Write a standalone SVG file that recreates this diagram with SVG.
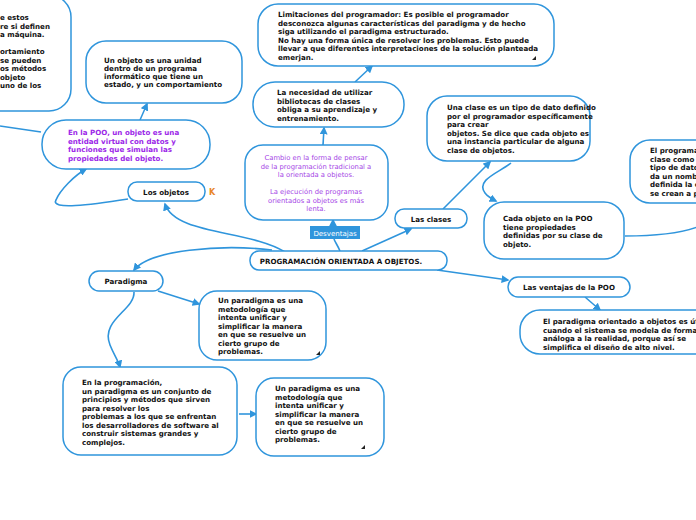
<svg xmlns="http://www.w3.org/2000/svg" width="696" height="520" viewBox="0 0 696 520">
<defs>
<style>
.n{fill:#fff;stroke:#2f95dc;stroke-width:1.5}
.t{font-family:"DejaVu Sans",Verdana,sans-serif;font-size:7.1px;font-weight:bold;fill:#111}
.p{fill:#9b27e8}
.q{font-family:"DejaVu Sans",Verdana,sans-serif;font-size:6.8px;fill:#a545e6}
.c{text-anchor:middle}
.l{fill:none;stroke:#2f95dc;stroke-width:1.6;marker-end:url(#a)}
.m{fill:none;stroke:#2f95dc;stroke-width:1.6}
.k{fill:#222}
</style>
<marker id="a" viewBox="0 0 10 10" refX="8" refY="5" markerWidth="5" markerHeight="5" orient="auto"><path d="M0,0L10,5L0,10z" fill="#2f95dc"/></marker>
</defs>
<rect width="696" height="520" fill="#fff"/>
<g id="connectors">
<path class="l" d="M285,252 C250,230 175,235 165,204"/>
<path class="l" d="M128,199 C90,205 50,210 56,200 C60,190 75,175 86,169"/>
<path class="l" d="M140,120 L147,104"/>
<path class="m" d="M41,132 L0,126"/>
<path class="m" d="M340,251 C338,246 335,242 334,239"/>
<path class="l" d="M333,226 L333,220"/>
<path class="l" d="M323,145 L324,128"/>
<path class="l" d="M355,82 L372,66"/>
<path class="l" d="M362,251 L411,229"/>
<path class="l" d="M443,209 L490,162"/>
<path class="l" d="M511,163 C500,172 475,180 485,193 C488,197 492,199 496,201"/>
<path class="m" d="M625,236 C650,236 680,234 700,226"/>
<path class="l" d="M437,270 L508,280"/>
<path class="l" d="M585,297 L600,310"/>
<path class="l" d="M272,250 C220,244 150,250 134,270"/>
<path class="l" d="M158,291 L199,304"/>
<path class="l" d="M134,292 C135,310 100,320 110,345 C114,355 118,360 120,367"/>
<path class="l" d="M239,414 L256,414"/>
</g>
<g id="n_left"><rect class="n" x="-30" y="-5" width="101" height="116" rx="22"/>
<text class="t" x="0" y="20">e estos</text><text class="t" x="0" y="28.5">re si definen</text><text class="t" x="0" y="37">a máquina.</text>
<text class="t" x="0" y="54">ortamiento</text><text class="t" x="0" y="62.5"> se pueden</text><text class="t" x="0" y="71">os métodos</text><text class="t" x="0" y="79.5"> objeto</text><text class="t" x="0" y="88">uno de los</text></g>
<g id="n_unidad"><rect class="n" x="86" y="41" width="156" height="62" rx="20"/>
<text class="t" x="104" y="63">Un objeto es una unidad</text><text class="t" x="104" y="71">dentro de un programa</text><text class="t" x="104" y="79">informático que tiene un</text><text class="t" x="104" y="87">estado, y un comportamiento</text></g>
<g id="n_poo"><rect class="n" x="42" y="120" width="168" height="49" rx="24"/>
<text class="t p" x="68" y="135">En la POO, un objeto es una</text><text class="t p" x="68" y="144">entidad virtual  con datos y</text><text class="t p" x="68" y="152">funciones que simulan las</text><text class="t p" x="68" y="161">propiedades del objeto.</text></g>
<g id="n_objetos"><rect class="n" x="128" y="182" width="77" height="19" rx="9"/>
<text class="t c" x="166" y="195">Los objetos</text>
<text x="209" y="195" style="font-family:'DejaVu Sans',sans-serif;font-size:8px;font-weight:bold;fill:#e8862a">K</text></g>
<g id="n_limit"><rect class="n" x="258" y="4" width="296" height="62" rx="20"/>
<text class="t" x="278" y="17">Limitaciones del programador: Es posible el programador</text><text class="t" x="278" y="25.5">desconozca algunas características del paradigma y de hecho</text><text class="t" x="278" y="34">siga utilizando el paradigma estructurado.</text><text class="t" x="278" y="42.5">No hay una forma única de resolver los problemas. Esto puede</text><text class="t" x="278" y="51">llevar a que diferentes interpretaciones de la solución planteada</text><text class="t" x="278" y="59.5">emerjan.</text>
<path class="k" d="M536,56 L536,60 L532,60z"/></g>
<g id="n_neces"><rect class="n" x="253" y="82" width="151" height="45" rx="22"/>
<text class="t" x="277" y="95">La necesidad de utilizar</text><text class="t" x="277" y="103.5">bibliotecas de clases</text><text class="t" x="277" y="112">obliga a su aprendizaje y</text><text class="t" x="277" y="120.5">entrenamiento.</text></g>
<g id="n_cambio"><rect class="n" x="245" y="145" width="143" height="75" rx="18"/>
<text class="q c" x="316" y="160">Cambio en la forma de pensar</text><text class="q c" x="316" y="168.5">de la programación tradicional a</text><text class="q c" x="316" y="177">la orientada a objetos.</text>
<text class="q c" x="316" y="194">La ejecución de programas</text><text class="q c" x="316" y="202.5">orientados a objetos es más</text><text class="q c" x="316" y="211">lenta.</text></g>
<g id="n_desv"><rect x="310" y="226" width="50" height="13" fill="#2f95dc"/>
<text x="335" y="235.5" text-anchor="middle" style="font-family:'DejaVu Sans',sans-serif;font-size:7px;fill:#fff">Desventajas</text></g>
<g id="n_clases"><rect class="n" x="395" y="209" width="72" height="19" rx="9"/>
<text class="t c" x="431" y="222">Las clases</text></g>
<g id="n_unaclase"><rect class="n" x="427" y="96" width="163" height="65" rx="20"/>
<text class="t" x="447" y="110">Una clase es un tipo de dato definido</text><text class="t" x="447" y="118.5">por el programador específicamente</text><text class="t" x="447" y="127">para crear</text><text class="t" x="447" y="135.5">objetos. Se dice que cada objeto es</text><text class="t" x="447" y="144">una instancia particular de alguna</text><text class="t" x="447" y="152.5">clase de objetos.</text></g>
<g id="n_cada"><rect class="n" x="484" y="202" width="140" height="57" rx="20"/>
<text class="t" x="503" y="221">Cada objeto en la POO</text><text class="t" x="503" y="229.5">tiene propiedades</text><text class="t" x="503" y="238">definidas por su clase de</text><text class="t" x="503" y="246.5">objeto.</text></g>
<g id="n_prog"><rect class="n" x="630" y="140" width="100" height="63" rx="20"/>
<text class="t" x="650" y="153"> El programa</text><text class="t" x="650" y="161.5">clase como l</text><text class="t" x="650" y="170">tipo de dato</text><text class="t" x="650" y="178.5">da un nombr</text><text class="t" x="650" y="187">definida la c</text><text class="t" x="650" y="195.5">se crean a p</text></g>
<g id="n_central"><rect class="n" x="250" y="251" width="197" height="19" rx="9"/>
<text class="t c" x="341" y="264">PROGRAMACIÓN ORIENTADA A OBJETOS.</text></g>
<g id="n_vent"><rect class="n" x="508" y="277" width="122" height="20" rx="10"/>
<text class="t c" x="569" y="290">Las ventajas de la POO</text></g>
<g id="n_elpar"><rect class="n" x="520" y="310" width="200" height="44" rx="20"/>
<text class="t" x="543" y="324">El paradigma orientado a objetos es útil</text><text class="t" x="543" y="332.5">cuando el sistema se modela de forma</text><text class="t" x="543" y="341">análoga a la realidad, porque así se</text><text class="t" x="543" y="349.5">simplifica el diseño de alto nivel.</text></g>
<g id="n_paradigma"><rect class="n" x="89" y="271" width="74" height="20" rx="10"/>
<text class="t c" x="126" y="284">Paradigma</text></g>
<g id="n_up1"><rect class="n" x="199" y="291" width="127" height="69" rx="18"/>
<text class="t" x="218" y="303">Un paradigma es una</text><text class="t" x="218" y="311.5">metodología que</text><text class="t" x="218" y="320">intenta unificar y</text><text class="t" x="218" y="328.5">simplificar la manera</text><text class="t" x="218" y="337">en que se resuelve un</text><text class="t" x="218" y="345.5">cierto grupo de</text><text class="t" x="218" y="354">problemas.</text>
<path class="k" d="M320,351 L320,355 L316,355z"/></g>
<g id="n_enlaprog"><rect class="n" x="63" y="367" width="174" height="88" rx="18"/>
<text class="t" x="82" y="385">En la programación,</text><text class="t" x="82" y="393.5"> un paradigma es un conjunto de</text><text class="t" x="82" y="402">principios y métodos que sirven</text><text class="t" x="82" y="410.5">para resolver los</text><text class="t" x="82" y="419">problemas a los que se enfrentan</text><text class="t" x="82" y="427.5">los desarrolladores de software al</text><text class="t" x="82" y="436">construir sistemas grandes y</text><text class="t" x="82" y="444.5">complejos.</text></g>
<g id="n_up2"><rect class="n" x="256" y="378" width="128" height="78" rx="18"/>
<text class="t" x="275" y="391">Un paradigma es una</text><text class="t" x="275" y="399.5">metodología que</text><text class="t" x="275" y="408">intenta unificar y</text><text class="t" x="275" y="416.5">simplificar la manera</text><text class="t" x="275" y="425">en que se resuelve un</text><text class="t" x="275" y="433.5">cierto grupo de</text><text class="t" x="275" y="442">problemas.</text>
<path class="k" d="M365,445 L365,449 L361,449z"/></g>
</svg>
